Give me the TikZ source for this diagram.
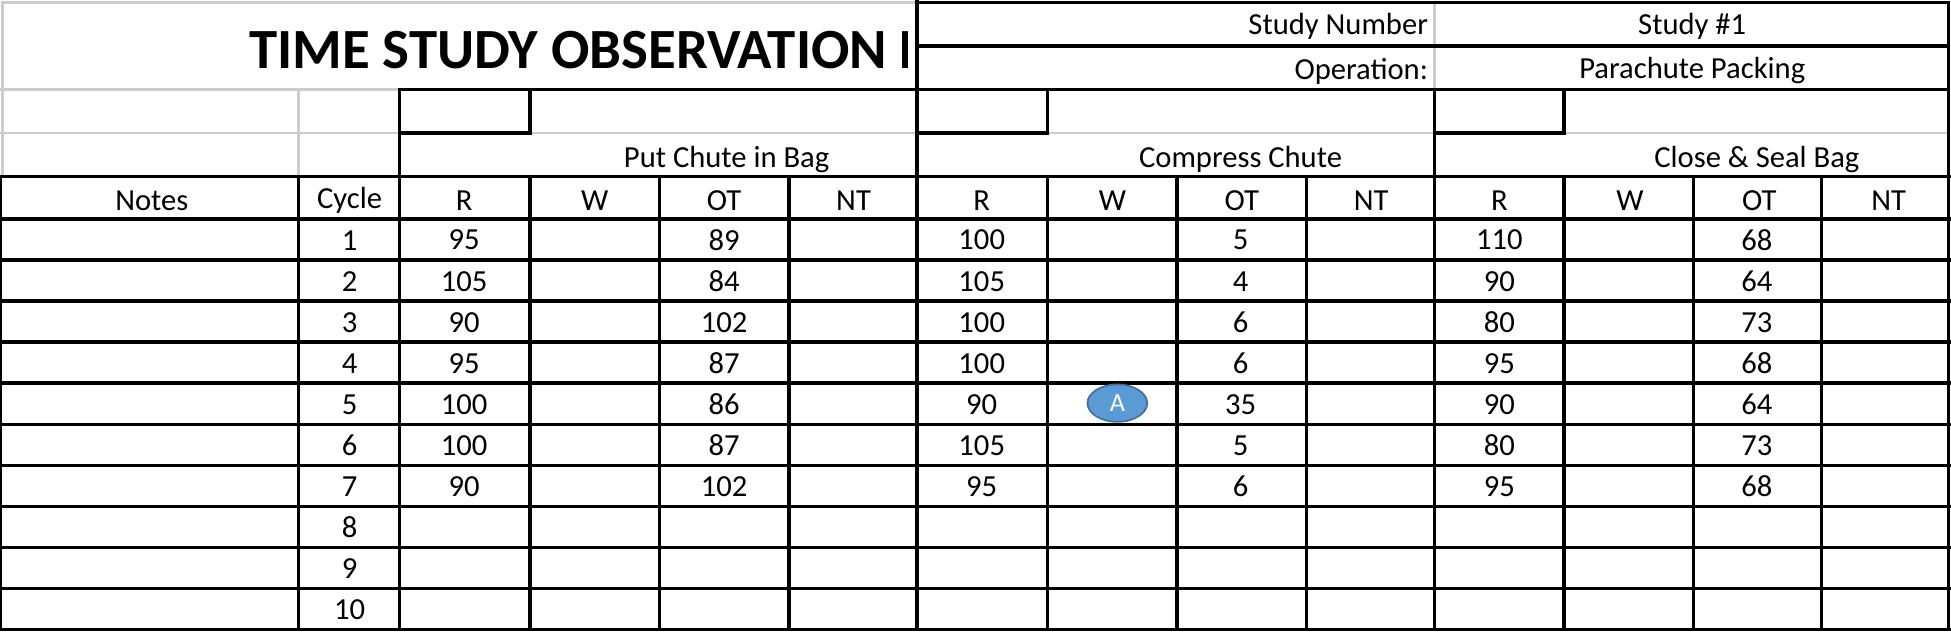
\documentclass[tikz,border=0pt]{standalone}
\usepackage{fontspec}
\setmainfont{Carlito}
\usetikzlibrary{shapes.geometric}
\definecolor{ovalfill}{HTML}{5B9BD5}
\definecolor{ovaldraw}{HTML}{41719C}
\begin{document}
\begin{tikzpicture}[x=0.02cm,y=-0.02cm,
  thk/.style={line width=1.6pt,black},
  gry/.style={line width=1.2pt,color=gray!40},
  txt/.style={font=\fontsize{14}{16}\selectfont,inner sep=0pt}]
\useasboundingbox (0,0) rectangle (1568,508);
\fill[white] (0,0) rectangle (1568,508);
% title (clipped at the cell edge)
\begin{scope}
\clip (0,0) rectangle (729,72);
\node[anchor=west,font=\bfseries\fontsize{26}{30}\selectfont,inner sep=0pt] (title) at (200,40) {TIME STUDY OBSERVATION FORM};
\end{scope}
% gray top-left grid
\draw[gry] (2,2) rectangle (737,72);
\draw[gry] (2,72) -- (2,142);
\draw[gry] (240,72) -- (240,142) (0,107) -- (321,107) (0,72) -- (321,72);
\draw[gry] (426,107) -- (737,107) (842,107) -- (1153,107) (1257,107) -- (1566,107);
\draw[gry] (1153,2) -- (1153,72);
% top right thick box
\draw[thk] (737,2) -- (1566,2) -- (1566,506) (737,0) -- (737,142) (737,37) -- (1566,37) (737,72) -- (1566,72);
% block boxes
\foreach \a/\b in {321/426,737/842,1153/1257}{
  \draw[thk] (\a,72) -- (\a,142) (\a,72) rectangle (\b,107);}
\draw[thk] (321,72) -- (737,72);
% data grid
\draw[thk] (0,142) -- (1568,142);
\foreach \y in {176,209,242,275,308,341,374,407,440,473,506}
  \draw[thk] (0,\y) -- (1568,\y);
\foreach \x in {240,321,426,530,634,737,842,946,1050,1153,1257,1361,1464}
  \draw[thk] (\x,142) -- (\x,506);
\draw[thk] (0,142) -- (0,506) (1566,142) -- (1566,506);
\node[txt,anchor=east] (sn) at (1148,21) {Study Number};
\node[txt,anchor=east] (op) at (1148,57) {Operation:};
\node[txt] (s1) at (1360,21) {Study \#1};
\node[txt] (pp) at (1360,57) {Parachute Packing};
\node[txt] (b1) at (584,128) {Put Chute in Bag};
\node[txt] (b2) at (997,128) {Compress Chute};
\node[txt] (b3) at (1412,128) {Close \& Seal Bag};
\node[txt] (hn) at (122,161) {Notes};
\node[txt] (hc) at (281,161) {Cycle};
\foreach \x in {0,416,832}{
  \node[txt] at (373+\x,161) {R};
  \node[txt] at (478+\x,161) {W};
  \node[txt] at (582+\x,161) {OT};
  \node[txt] at (686+\x,161) {NT};}
\foreach \c in {1,...,10}
  \node[txt] at (281,160+33*\c) {\c};
\foreach \i/\r/\o in {1/95/89,2/105/84,3/90/102,4/95/87,5/100/86,6/100/87,7/90/102}{
  \node[txt] at (373,160+33*\i) {\r};
  \node[txt] at (582,160+33*\i) {\o};}
\foreach \i/\r/\o in {1/100/5,2/105/4,3/100/6,4/100/6,5/90/35,6/105/5,7/95/6}{
  \node[txt] at (789,160+33*\i) {\r};
  \node[txt] at (997,160+33*\i) {\o};}
\foreach \i/\r/\o in {1/110/68,2/90/64,3/80/73,4/95/68,5/90/64,6/80/73,7/95/68}{
  \node[txt] at (1205,160+33*\i) {\r};
  \node[txt] at (1412,160+33*\i) {\o};}
\node[ellipse,draw=ovaldraw,line width=0.8pt,fill=ovalfill,minimum width=0.96cm,minimum height=0.6cm,inner sep=0pt,text=white,font=\fontsize{12}{14}\selectfont] (A) at (898,324) {A};
\end{tikzpicture}
\end{document}
